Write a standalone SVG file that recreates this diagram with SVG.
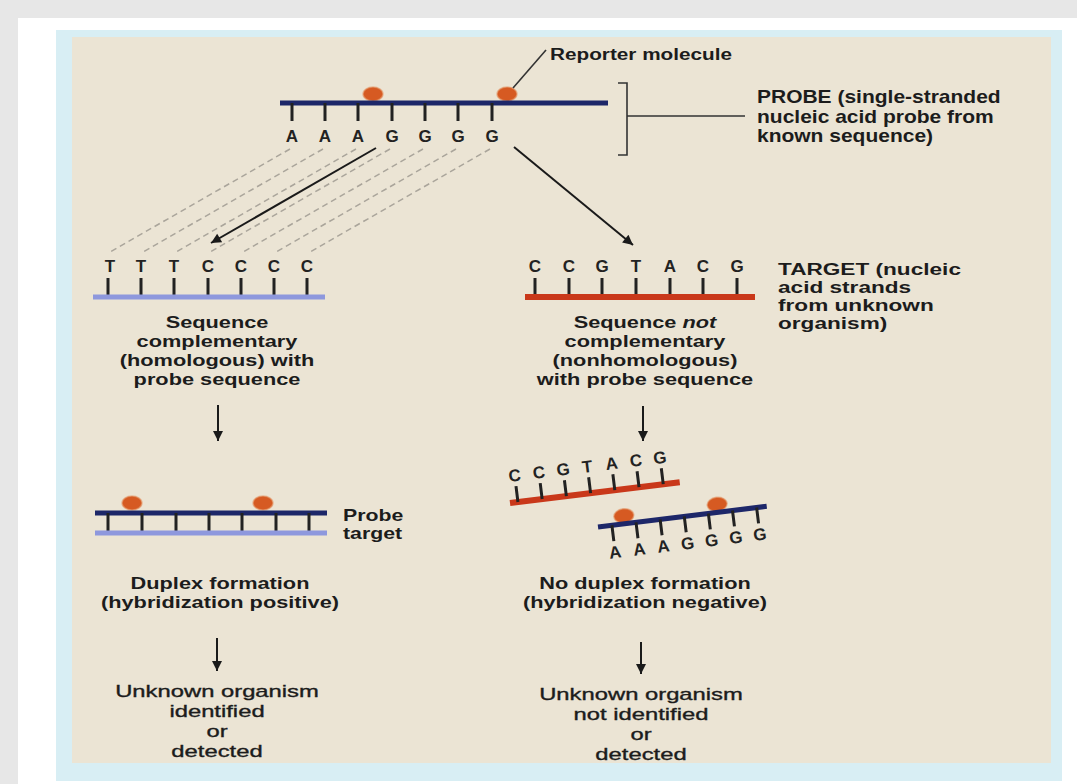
<svg xmlns="http://www.w3.org/2000/svg" width="1077" height="784" viewBox="0 0 1077 784">
<style>
.t{font-family:"Liberation Sans",Arial,sans-serif;font-weight:bold;font-size:17px;fill:#1c1c1c}
.r{font-family:"Liberation Sans",Arial,sans-serif;font-weight:normal;font-size:17px;fill:#1c1c1c;stroke:#1c1c1c;stroke-width:0.35}
.b{font-family:"Liberation Sans",Arial,sans-serif;font-weight:bold;font-size:17px;fill:#222;text-anchor:middle}
.c{text-anchor:middle}
.navy{stroke:#1d2769;stroke-width:5;fill:none}
.lav{stroke:#8e98dd;stroke-width:5;fill:none}
.red{stroke:#c9381a;stroke-width:6;fill:none}
.tick{stroke:#222;stroke-width:3;fill:none}
.dot{fill:#d65a22;stroke:#e49a6a;stroke-width:1.5;stroke-opacity:0.6}
.thin{stroke:#333;stroke-width:1.6;fill:none}
.dash{stroke:#aaa59b;stroke-width:1.5;stroke-dasharray:6 4;fill:none}
.arr{stroke:#1a1a1a;stroke-width:2;fill:none;marker-end:url(#ah)}
</style>
<defs>
<marker id="ah" viewBox="0 0 10 10" refX="10" refY="5" markerWidth="11" markerHeight="10" markerUnits="userSpaceOnUse" orient="auto"><path d="M0,0 L10,5 L0,10 z" fill="#1a1a1a"/></marker>
</defs>
<rect x="0" y="0" width="1077" height="784" fill="#e7e7e7"/>
<rect x="18" y="18" width="1059" height="766" fill="#ffffff"/>
<rect x="56" y="30" width="1006" height="751" fill="#d8eef4"/>
<rect x="72" y="37" width="979" height="726" fill="#ebe4d4"/>

<g id="connectors">
<path class="dash" d="M290,149 L110,252"/>
<path class="dash" d="M323,149 L143,252"/>
<path class="dash" d="M356,149 L176,252"/>
<path class="dash" d="M390,149 L210,252"/>
<path class="dash" d="M423,149 L243,252"/>
<path class="dash" d="M456,149 L276,252"/>
<path class="dash" d="M490,149 L310,252"/>
<path class="arr" d="M376,148 L211,243"/>
<path class="arr" d="M514,147 L633,245"/>
<path class="arr" d="M218,405 V441"/>
<path class="arr" d="M643,406 V441"/>
<path class="arr" d="M217,638 V671"/>
<path class="arr" d="M641,642 V674"/>
</g>

<g id="probe">
<ellipse class="dot" cx="373" cy="94" rx="10" ry="7"/>
<ellipse class="dot" cx="507" cy="94" rx="10" ry="7"/>
<line class="navy" x1="280" y1="103" x2="608" y2="103"/>
<path class="tick" d="M292,103V121M325,103V121M358,103V121M392,103V121M425,103V121M458,103V121M492,103V121"/>
<text class="b" y="142"><tspan x="292">A</tspan><tspan x="325">A</tspan><tspan x="358">A</tspan><tspan x="392">G</tspan><tspan x="425">G</tspan><tspan x="458">G</tspan><tspan x="492">G</tspan></text>
</g>

<g id="reporter-label">
<path class="thin" d="M513,88 L546,50"/>
<text class="t" font-size="16.5" transform="translate(550,60) scale(1.22,1)">Reporter molecule</text>
</g>

<g id="probe-label">
<path class="thin" d="M618,83 H627 V155 H618 M627,116 H745"/>
<text class="t" style="font-size:17.5px" transform="translate(757,103) scale(1.2,1)">PROBE (single-stranded</text>
<text class="t" style="font-size:17.5px" transform="translate(757,123) scale(1.2,1)">nucleic acid probe from</text>
<text class="t" style="font-size:17.5px" transform="translate(757,142) scale(1.2,1)">known sequence)</text>
</g>

<g id="homologous-target">
<text class="b" y="272" font-size="18"><tspan x="110">T</tspan><tspan x="141">T</tspan><tspan x="174">T</tspan><tspan x="208">C</tspan><tspan x="241">C</tspan><tspan x="274">C</tspan><tspan x="307">C</tspan></text>
<path class="tick" d="M108,278V296M141,278V296M174,278V296M208,278V296M241,278V296M274,278V296M307,278V296"/>
<line class="lav" x1="93" y1="297" x2="325" y2="297"/>
<text class="t c" transform="translate(217,328) scale(1.28,1)">Sequence</text>
<text class="t c" transform="translate(217,347) scale(1.28,1)">complementary</text>
<text class="t c" transform="translate(217,366) scale(1.28,1)">(homologous) with</text>
<text class="t c" transform="translate(217,385) scale(1.28,1)">probe sequence</text>
</g>

<g id="nonhomologous-target">
<text class="b" y="272" font-size="18"><tspan x="535">C</tspan><tspan x="569">C</tspan><tspan x="602">G</tspan><tspan x="636">T</tspan><tspan x="670">A</tspan><tspan x="703">C</tspan><tspan x="737">G</tspan></text>
<path class="tick" d="M535,278V295M569,278V295M602,278V295M636,278V295M670,278V295M703,278V295M737,278V295"/>
<line class="red" x1="525" y1="297" x2="755" y2="297"/>
<text class="t c" transform="translate(645,328) scale(1.28,1)">Sequence <tspan font-style="italic">not</tspan></text>
<text class="t c" transform="translate(645,347) scale(1.28,1)">complementary</text>
<text class="t c" transform="translate(645,366) scale(1.28,1)">(nonhomologous)</text>
<text class="t c" transform="translate(645,385) scale(1.28,1)">with probe sequence</text>
</g>

<g id="target-label">
<text class="t" transform="translate(778,275) scale(1.33,1)">TARGET (nucleic</text>
<text class="t" transform="translate(778,293) scale(1.33,1)">acid strands</text>
<text class="t" transform="translate(778,311) scale(1.33,1)">from unknown</text>
<text class="t" transform="translate(778,329) scale(1.33,1)">organism)</text>
</g>

<g id="duplex">
<ellipse class="dot" cx="132" cy="503" rx="10" ry="7"/>
<ellipse class="dot" cx="263" cy="503" rx="10" ry="7"/>
<line class="navy" x1="95" y1="513" x2="327" y2="513"/>
<path class="tick" d="M108,513V532M142,513V532M176,513V532M209,513V532M242,513V532M276,513V532M309,513V532"/>
<line class="lav" x1="95" y1="533" x2="327" y2="533" stroke-width="4"/>
<text class="t" font-size="16" transform="translate(343,521) scale(1.25,1)">Probe</text>
<text class="t" font-size="16" transform="translate(343,539) scale(1.25,1)">target</text>
<text class="t c" transform="translate(220,589) scale(1.28,1)">Duplex formation</text>
<text class="t c" transform="translate(220,608) scale(1.28,1)">(hybridization positive)</text>
</g>

<g id="no-duplex">
<g transform="translate(510,503) rotate(-7)">
<line class="red" x1="0" y1="0" x2="171" y2="0"/>
<path class="tick" d="M8,0V-16M32.4,0V-16M56.8,0V-16M81.2,0V-16M105.6,0V-16M130,0V-16M154.4,0V-16"/>
<text class="b" y="-21" font-size="18"><tspan x="8">C</tspan><tspan x="32.4">C</tspan><tspan x="56.8">G</tspan><tspan x="81.2">T</tspan><tspan x="105.6">A</tspan><tspan x="130">C</tspan><tspan x="154.4">G</tspan></text>
</g>
<g transform="translate(598,527) rotate(-7)">
<ellipse class="dot" cx="27" cy="-8" rx="10" ry="7"/>
<ellipse class="dot" cx="121" cy="-8" rx="10" ry="7"/>
<line class="navy" x1="0" y1="0" x2="170" y2="0" stroke-width="6"/>
<path class="tick" d="M14,0V16M38.3,0V16M62.6,0V16M86.9,0V16M111.2,0V16M135.5,0V16M159.8,0V16"/>
<text class="b" y="33" font-size="18"><tspan x="14">A</tspan><tspan x="38.3">A</tspan><tspan x="62.6">A</tspan><tspan x="86.9">G</tspan><tspan x="111.2">G</tspan><tspan x="135.5">G</tspan><tspan x="159.8">G</tspan></text>
</g>
<text class="t c" transform="translate(645,589) scale(1.28,1)">No duplex formation</text>
<text class="t c" transform="translate(645,608) scale(1.28,1)">(hybridization negative)</text>
</g>

<g id="result-positive">
<text class="r c" transform="translate(217,697) scale(1.4,1)">Unknown organism</text>
<text class="r c" transform="translate(217,717) scale(1.4,1)">identified</text>
<text class="r c" transform="translate(217,737) scale(1.4,1)">or</text>
<text class="r c" transform="translate(217,757) scale(1.4,1)">detected</text>
</g>

<g id="result-negative">
<text class="r c" transform="translate(641,700) scale(1.4,1)">Unknown organism</text>
<text class="r c" transform="translate(641,720) scale(1.4,1)">not identified</text>
<text class="r c" transform="translate(641,740) scale(1.4,1)">or</text>
<text class="r c" transform="translate(641,760) scale(1.4,1)">detected</text>
</g>
</svg>
